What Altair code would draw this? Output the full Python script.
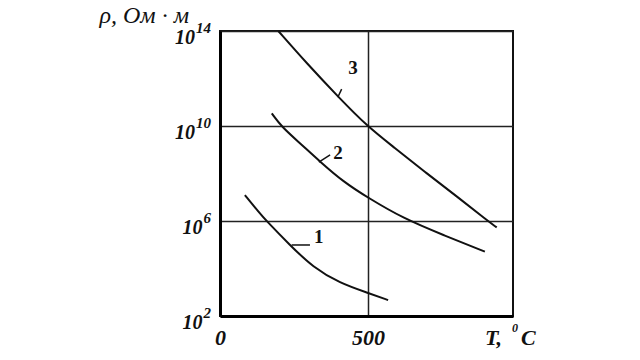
import altair as alt
import pandas as pd

# Curves: temperature (°C) and log10 of resistivity (Ohm·m)
c1_T = [84, 135, 152, 236, 314, 405, 500, 568]
c1_e = [7.09, 6.32, 6.07, 4.99, 4.05, 3.38, 2.97, 2.67]
c2_T = [175, 208, 270, 338, 417, 500, 619, 754, 895]
c2_e = [10.53, 9.97, 9.28, 8.50, 7.65, 6.98, 6.11, 5.41, 4.71]
c3_T = [197, 293, 400, 499, 585, 698, 811, 901, 935]
c3_e = [14.0, 12.64, 11.22, 9.97, 9.13, 8.01, 6.93, 6.04, 5.73]

# curve labels
lab_text = ["1", "2", "3"]
lab_T = [334, 399, 449]
lab_e = [5.33, 8.86, 12.44]
# leader lines
ld_T1 = [242, 334, 398]
ld_T2 = [304, 372, 411]
ld_e1 = [4.99, 8.48, 11.21]
ld_e2 = [4.99, 8.78, 11.55]

x_ticks = [0, 500]
y_ticks = [1e2, 1e6, 1e10, 1e14]
y_base = ["10", "10", "10", "10"]
y_exp = ["2", "6", "10", "14"]
x_title = ["T,", "0", "C"]

rows = []
for name, T, E in [("1", c1_T, c1_e), ("2", c2_T, c2_e), ("3", c3_T, c3_e)]:
    for t, e in zip(T, E):
        rows.append({"curve": name, "T": t, "rho": 10 ** e})
curves = pd.DataFrame(rows)
labels = pd.DataFrame({"text": lab_text, "T": lab_T, "rho": [10 ** e for e in lab_e]})
leaders = pd.DataFrame({"T1": ld_T1, "T2": ld_T2,
                        "r1": [10 ** e for e in ld_e1], "r2": [10 ** e for e in ld_e2]})
ylabs = pd.DataFrame({"v": y_ticks, "base": y_base, "exp": y_exp})

FONT = "Liberation Serif"
xscale = alt.Scale(domain=[0, 990], nice=False, zero=False)
yscale = alt.Scale(type="log", domain=[1e2, 1e14], nice=False)

xaxis = alt.Axis(values=x_ticks, ticks=False, grid=True, gridColor="#222", gridWidth=1.5,
                 domainColor="#000", domainWidth=3, labelFont=FONT, labelFontSize=22,
                 labelFontWeight="bold", labelFontStyle="italic", labelColor="#111",
                 labelPadding=11, labelFlush=False, title=None)
yaxis = alt.Axis(values=y_ticks, ticks=False, grid=True, gridColor="#222", gridWidth=1.5,
                 domainColor="#000", domainWidth=3, labels=False,
                 title="ρ,  Ом · м", titleFont=FONT, titleFontSize=24, titleFontWeight="normal",
                 titleFontStyle="italic", titleColor="#111", titleAngle=0, titleAlign="left",
                 titleBaseline="middle", titleX=-121, titleY=-16)

lines = alt.Chart(curves).mark_line(color="#111", strokeWidth=2, interpolate="basis").encode(
    x=alt.X("T:Q", scale=xscale, axis=xaxis),
    y=alt.Y("rho:Q", scale=yscale, axis=yaxis),
    detail="curve:N",
)
lead = alt.Chart(leaders).mark_rule(color="#111", strokeWidth=1.5).encode(
    x=alt.X("T1:Q", scale=xscale), x2="T2:Q",
    y=alt.Y("r1:Q", scale=yscale), y2="r2:Q",
)
txt = alt.Chart(labels).mark_text(font=FONT, fontSize=19, fontWeight="bold", color="#111").encode(
    x=alt.X("T:Q", scale=xscale), y=alt.Y("rho:Q", scale=yscale), text="text:N"
)

# y tick labels: "10" with a raised exponent
ybase = alt.Chart(ylabs).transform_calculate(
    xp="-10 - 7.5 * length(datum.exp)"
).mark_text(font=FONT, fontSize=20, fontWeight="bold", fontStyle="italic", color="#111",
            align="right", baseline="middle", dy=7).encode(
    x=alt.X("xp:Q", scale=None), y=alt.Y("v:Q", scale=yscale), text="base:N"
)
yexp = alt.Chart(ylabs).mark_text(font=FONT, fontSize=15, fontWeight="bold", fontStyle="italic",
                                  color="#111", align="right", baseline="middle", dy=-3).encode(
    x=alt.value(-9), y=alt.Y("v:Q", scale=yscale), text="exp:N"
)

# x axis title "T, °C" with raised 0
t1 = alt.Chart(pd.DataFrame({"t": [x_title[0]]})).mark_text(
    font=FONT, fontSize=22, fontWeight="bold", fontStyle="italic", color="#111",
    align="left", baseline="middle").encode(x=alt.value(265), y=alt.value(307), text="t:N")
t2 = alt.Chart(pd.DataFrame({"t": [x_title[1]]})).mark_text(
    font=FONT, fontSize=12, fontWeight="bold", fontStyle="italic", color="#111",
    align="left", baseline="middle").encode(x=alt.value(292), y=alt.value(297), text="t:N")
t3 = alt.Chart(pd.DataFrame({"t": [x_title[2]]})).mark_text(
    font=FONT, fontSize=22, fontWeight="bold", fontStyle="italic", color="#111",
    align="left", baseline="middle").encode(x=alt.value(301), y=alt.value(307), text="t:N")

chart = alt.layer(lines, lead, txt, ybase, yexp, t1, t2, t3).properties(
    width=293, height=285,
    autosize=alt.AutoSizeParams(type="none"),
    padding={"left": 220, "top": 31, "right": 127, "bottom": 44},
    background="white",
).configure_view(stroke="#111", strokeWidth=2)

chart.save("out.html", embed_options={"renderer": "svg", "actions": False})
